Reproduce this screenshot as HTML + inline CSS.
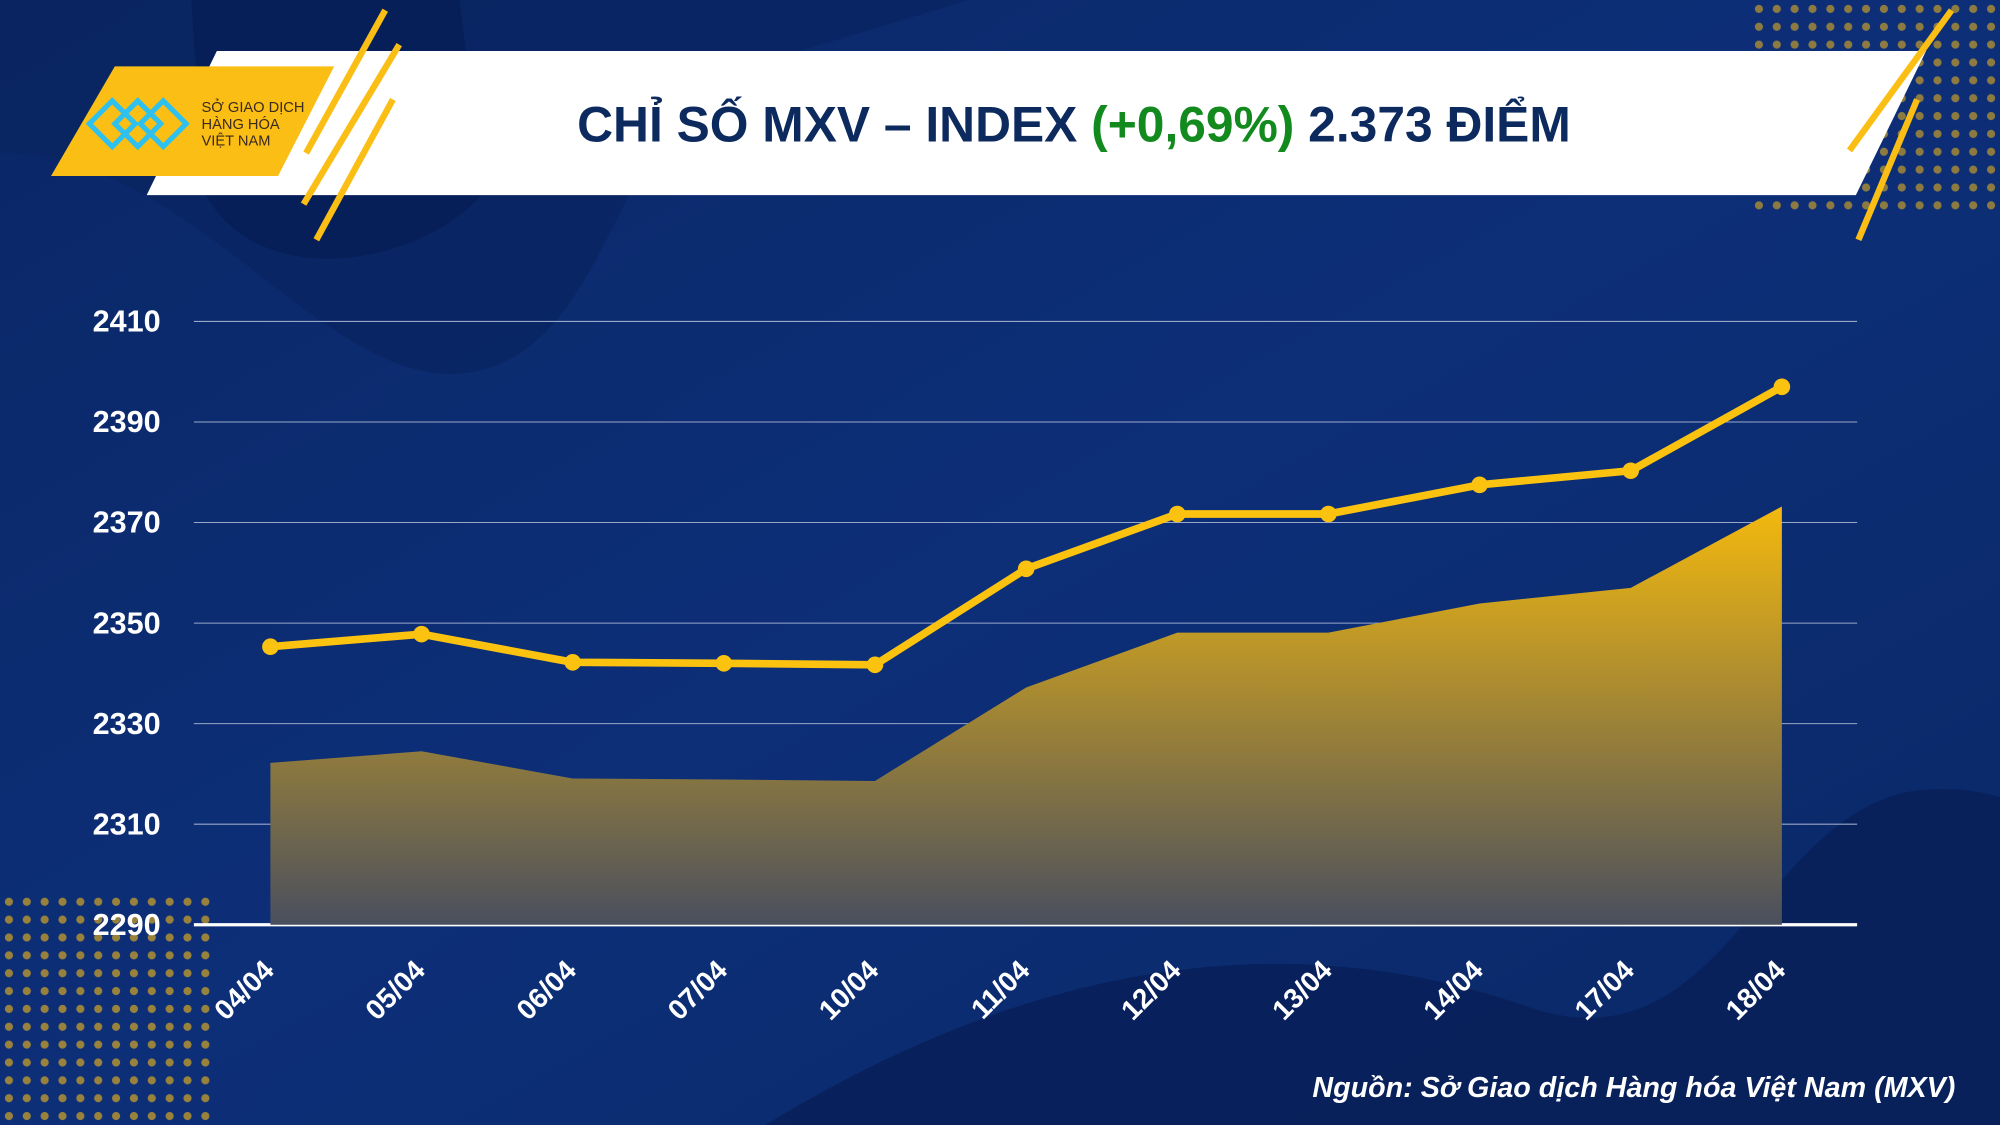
<!DOCTYPE html>
<html><head><meta charset="utf-8"><style>
html,body{margin:0;padding:0;background:#0b2b6f;}
svg{display:block;}
text{font-family:"Liberation Sans","Noto Sans CJK SC",sans-serif;}
</style></head><body>
<svg id="chart" width="2000" height="1125" viewBox="0 0 1568 882" xmlns="http://www.w3.org/2000/svg">
<defs>
<linearGradient id="bg" x1="0" y1="0" x2="1" y2="1">
<stop offset="0" stop-color="#0a2766"/><stop offset="0.5" stop-color="#0d2f78"/><stop offset="1" stop-color="#0a2866"/></linearGradient>
<linearGradient id="areaG" x1="0" y1="0" x2="0" y2="1">
<stop offset="0" stop-color="#f4b90e"/><stop offset="1" stop-color="#4a4f5e"/></linearGradient>
<pattern id="dots" width="14" height="14" patternUnits="userSpaceOnUse"><circle cx="7" cy="7" r="3.2" fill="#f5b915"/></pattern>
</defs>
<rect width="1568" height="882" fill="url(#bg)"/>
<path d="M0 120 C150 120 250 300 360 293 C470 285 480 120 560 60 L760 0 L0 0Z" fill="#082460" opacity="0.7"/>
<path d="M160 150 C200 230 330 210 380 150 L360 0 L150 0Z" fill="#061d52" opacity="0.6"/>
<path d="M600 882 C800 760 1000 720 1200 790 C1350 840 1380 640 1500 620 C1540 615 1568 625 1568 625 L1568 882Z" fill="#071f58" opacity="0.8"/>
<rect x="1370" y="0" width="198" height="170" fill="url(#dots)" opacity="0.55"/>
<rect x="0" y="700" width="170" height="182" fill="url(#dots)" opacity="0.6"/>
<polygon points="170,40 1510,40 1455,153 115,153" fill="#ffffff"/>
<polygon points="90,52 262,52 218,138 40,138" fill="#fbbe14"/>
<g fill="none" stroke="#2ec0ee" stroke-width="4">
<path d="M70 97 L88 79 L106 97 L88 115Z"/><path d="M90 97 L108 79 L126 97 L108 115Z"/><path d="M110 97 L128 79 L146 97 L128 115Z"/>
</g>
<text x="158" y="88" font-size="11.5" fill="#3a2a20" font-family="Liberation Serif,serif">SỞ GIAO DỊCH</text>
<text x="158" y="101" font-size="11.5" fill="#3a2a20" font-family="Liberation Serif,serif">HÀNG HÓA</text>
<text x="158" y="114" font-size="11.5" fill="#3a2a20" font-family="Liberation Serif,serif">VIỆT NAM</text>
<g stroke="#fbbe14" stroke-width="5">
<line x1="302" y1="8" x2="240" y2="120"/><line x1="313" y1="35" x2="238" y2="160"/><line x1="308" y1="78" x2="248" y2="188"/>
<line x1="1530" y1="8" x2="1450" y2="118"/><line x1="1503" y1="78" x2="1457" y2="188"/>
</g>
<text x="842" y="111" text-anchor="middle" font-size="39" font-weight="bold" fill="#0d2a5e">CHỈ SỐ MXV – INDEX <tspan fill="#138a1e">(+0,69%)</tspan> 2.373 ĐIỂM</text>
<g id="grid"></g><g id="plot"></g><g id="labels"></g>
<text x="1533" y="860" text-anchor="end" font-size="22.5" font-weight="bold" font-style="italic" fill="#ffffff">Nguồn: Sở Giao dịch Hàng hóa Việt Nam (MXV)</text>
</svg>
<script>
const categories=["04/04","05/04","06/04","07/04","10/04","11/04","12/04","13/04","14/04","17/04","18/04"];
const lineValues=[2345.3,2347.8,2342.2,2342,2341.7,2360.8,2371.7,2371.7,2377.5,2380.3,2397];
const areaValues=[2322.2,2324.5,2319.1,2318.9,2318.6,2337.2,2348.1,2348.1,2353.9,2357,2373.2];
const yTicks=[2290,2310,2330,2350,2370,2390,2410];
const NS="http://www.w3.org/2000/svg";
const yMin=2290,yMax=2410,yTop=252,yBot=725,xFirst=212,xLast=1397;
function y(v){return yBot-(v-yMin)/(yMax-yMin)*(yBot-yTop);}
function x(i){return xFirst+i*(xLast-xFirst)/(categories.length-1);}
function mk(tag,attrs,parent){const e=document.createElementNS(NS,tag);for(const k in attrs)e.setAttribute(k,attrs[k]);parent.appendChild(e);return e;}
const grid=document.getElementById('grid'),plot=document.getElementById('plot'),lab=document.getElementById('labels');
yTicks.forEach(t=>{
 const l=mk('line',{x1:152,x2:1456,y1:y(t),y2:y(t),stroke:t===yMin?'#ffffff':'#9aa8c8','stroke-width':t===yMin?2.5:0.8},grid);
 
 
 const tx=mk('text',{x:126,y:y(t)+8,'text-anchor':'end','font-size':24,'font-weight':'bold',fill:'#ffffff'},lab);
 tx.textContent=t;
 
 
});
let d='M'+x(0)+' '+y(yMin);
areaValues.forEach((v,i)=>{d+=' L'+x(i)+' '+y(v);});
d+=' L'+x(areaValues.length-1)+' '+y(yMin)+'Z';
const area=mk('path',{d:d,fill:'url(#areaG)'},plot);


const pl=mk('polyline',{points:lineValues.map((v,i)=>x(i)+','+y(v)).join(' '),fill:'none',stroke:'#fbc30f','stroke-width':6,'stroke-linejoin':'round'},plot);


lineValues.forEach((v,i)=>{
 const c=mk('circle',{cx:x(i),cy:y(v),r:6.5,fill:'#fbc30f'},plot);
 
 
});
categories.forEach((c,i)=>{
 const ax=x(i)+4,ay=762;
 const tx=mk('text',{x:ax,y:ay,'text-anchor':'end','font-size':22,'font-weight':'bold',fill:'#ffffff',transform:'rotate(-45 '+ax+' '+ay+')'},lab);
 tx.textContent=c;
 
 
});
</script>
</body></html>
